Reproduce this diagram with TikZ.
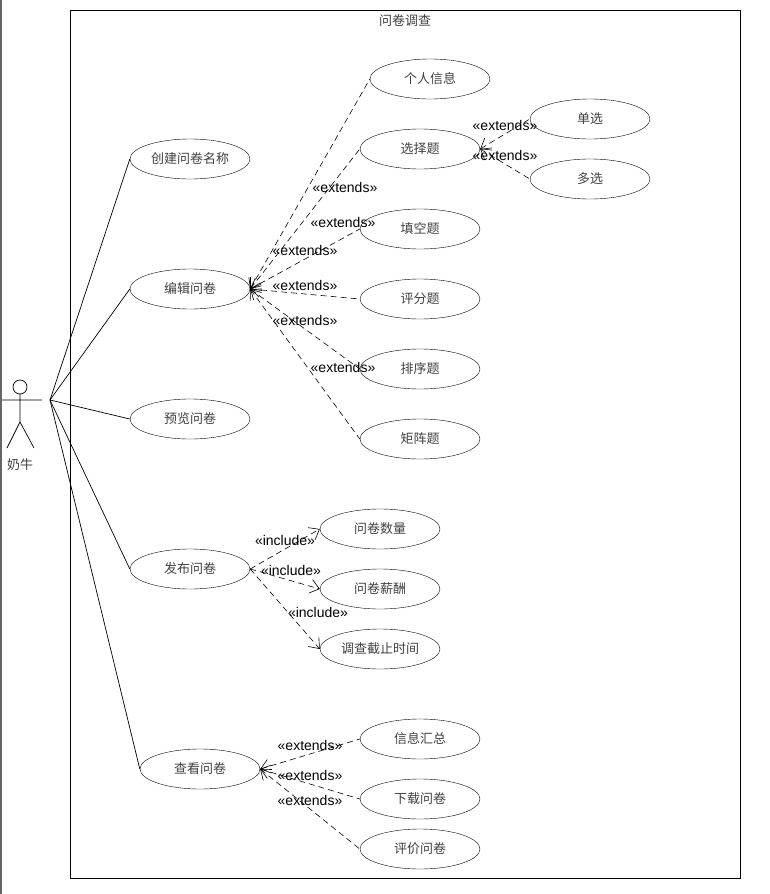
\documentclass[tikz,border=0pt]{standalone}
\usepackage{fontspec}
\setmainfont{Liberation Sans}
\newfontfamily\cjk{Noto Sans CJK SC}
\usetikzlibrary{shapes.geometric,arrows.meta}
\begin{document}
\begin{tikzpicture}[x=1pt,y=-1pt,
  uc/.style={draw,ellipse,minimum width=120pt,minimum height=40pt,inner sep=0pt,font=\cjk\fontsize{13}{15}\selectfont,text=black!75},
  dep/.style={draw,dash pattern=on 6pt off 4pt,line width=0.6pt},
  ext/.style={dep,{Straight Barb[length=9pt,width=14pt,line width=0.6pt]}-},
  inc/.style={dep,-{Straight Barb[length=9pt,width=14pt,line width=0.6pt]}},
  lab/.style={font=\fontsize{14}{16}\selectfont,inner sep=0pt},
  assoc/.style={draw,line width=0.7pt}]
\useasboundingbox (0,0) rectangle (770,894);
\fill[black!60] (0,0) rectangle (2,894);
\node[draw,line width=0.7pt,minimum width=670pt,minimum height=868pt,anchor=north west,inner sep=0pt] (sys) at (70,10) {};
\node[font=\cjk\fontsize{13}{15}\selectfont,text=black!75] (title) at (405,21) {问卷调查};
% actor
\draw[line width=0.7pt] (20,387) circle (7);
\draw[line width=0.7pt] (20,394) -- (20,422) (2,400) -- (42,400) (20,422) -- (7,448) (20,422) -- (34,448);
\node[font=\cjk\fontsize{13}{15}\selectfont,text=black!75] (actorlab) at (20,465) {奶牛};
\coordinate (act) at (50,400);
% use cases
\node[uc] (c1) at (190,159) {创建问卷名称};
\node[uc] (c2) at (190,289) {编辑问卷};
\node[uc] (c3) at (190,419) {预览问卷};
\node[uc] (c4) at (190,569) {发布问卷};
\node[uc] (c5) at (200,769) {查看问卷};
\node[uc] (e1) at (430,79) {个人信息};
\node[uc] (e2) at (420,149) {选择题};
\node[uc] (d1) at (590,119) {单选};
\node[uc] (d2) at (590,179) {多选};
\node[uc] (e3) at (420,229) {填空题};
\node[uc] (e4) at (420,299) {评分题};
\node[uc] (e5) at (420,369) {排序题};
\node[uc] (e6) at (420,439) {矩阵题};
\node[uc] (i1) at (380,529) {问卷数量};
\node[uc] (i2) at (380,589) {问卷薪酬};
\node[uc] (i3) at (380,649) {调查截止时间};
\node[uc] (v1) at (420,739) {信息汇总};
\node[uc] (v2) at (420,799) {下载问卷};
\node[uc] (v3) at (420,849) {评价问卷};
% associations
\foreach \n in {c1,c2,c3,c4,c5} \draw[assoc] (act) -- (\n.west);
% extends
\draw[ext] (c2.east) -- (e1.west);
\draw[ext] (c2.east) -- (e2.west);
\draw[ext] (c2.east) -- (e3.west);
\draw[ext] (c2.east) -- (e4.west);
\draw[ext] (c2.east) -- (e5.west);
\draw[ext] (c2.east) -- (e6.west);
\draw[ext] (e2.east) -- (d1.west);
\draw[ext] (e2.east) -- (d2.west);
\draw[ext] (c5.east) -- (v1.west);
\draw[ext] (c5.east) -- (v2.west);
\draw[ext] (c5.east) -- (v3.west);
\draw[inc] (c4.east) -- (i1.west);
\draw[inc] (c4.east) -- (i2.west);
\draw[inc] (c4.east) -- (i3.west);
% labels
\node[lab] (l1) at (345,187) {«extends»};
\node[lab] (l2) at (343,222) {«extends»};
\node[lab] (l3) at (305,250) {«extends»};
\node[lab] (l4) at (305,285) {«extends»};
\node[lab] (l5) at (305,320) {«extends»};
\node[lab] (l6) at (343,367) {«extends»};
\node[lab] (l7) at (505,125) {«extends»};
\node[lab] (l8) at (505,155) {«extends»};
\node[lab] (l9) at (285,540) {«include»};
\node[lab] (l10) at (291,570) {«include»};
\node[lab] (l11) at (318,612) {«include»};
\node[lab] (l12) at (310,745) {«extends»};
\node[lab] (l13) at (310,775) {«extends»};
\node[lab] (l14) at (310,800) {«extends»};
\end{tikzpicture}
\end{document}
